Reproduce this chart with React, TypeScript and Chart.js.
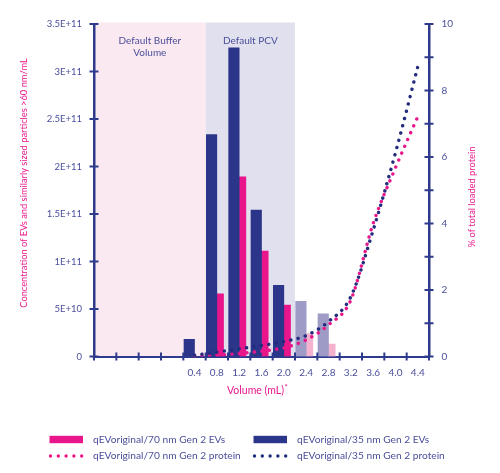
import React, { useEffect, useRef } from "react";
import { Chart, registerables } from "chart.js";

Chart.register(...registerables);

// ---------- data ----------
const categories = ["", "", "", "", "0.4", "0.8", "1.2", "1.6", "2.0", "2.4", "2.8", "3.2", "3.6", "4.0", "4.4"];
const evs35 = [null, null, null, null, 1.8e10, 2.335e11, 3.25e11, 1.54e11, 7.5e10, 5.8e10, 4.5e10, null, null, null, null];
const evs70 = [null, null, null, null, null, 6.6e10, 1.89e11, 1.11e11, 5.4e10, 2.4e10, 1.3e10, null, null, null, null];
const protein70 = [null, null, null, null, 0.02, 0.04, 0.09, 0.16, 0.26, 0.5, 0.95, 1.7, 4.0, 5.68, 7.22];
const protein35 = [null, null, null, null, 0.04, 0.13, 0.23, 0.33, 0.45, 0.63, 1.05, 1.8, 3.8, 6.13, 8.72];
const fadedIndex = [9, 10];
const leftTickLabels = ["0", "5E+10", "1E+11", "1.5E+11", "2E+11", "2.5E+11", "3E+11", "3.5E+11"];
const rightTickLabels = ["0", "", "2", "", "4", "", "6", "", "8", "", "10"];
const regionLabels = [
  { lines: ["Default Buffer", "Volume"], from: 0, to: 4 },
  { lines: ["Default PCV"], from: 5, to: 8 },
];
const legendLabels = [
  "qEVoriginal/70 nm Gen 2 EVs",
  "qEVoriginal/35 nm Gen 2 EVs",
  "qEVoriginal/70 nm Gen 2 protein",
  "qEVoriginal/35 nm Gen 2 protein",
];
const leftTitle = "Concentration of EVs and similarly sized particles >60 nm/mL";
const rightTitle = "% of total loaded protein";
const xTitle = "Volume (mL)";

// ---------- style ----------
const PINK = "#e8158b";
const NAVY = "#2b3589";
const PINK_LIGHT = "#f5b2cf";
const NAVY_LIGHT = "#9e9bc7";
const PINK_DOT = "#e8178c";
const NAVY_DOT = "#222b7c";
const AXIS = "#2e3a8c";
const TEXT = "#4b4f9b";
const BG_PINK = "#fbe9f1";
const BG_LAV = "#e0e0ee";
const FONT = "Lato, 'Noto Sans', sans-serif";

const W = 500;
const H = 473;

const decorPlugin = {
  id: "decor",
  beforeDraw(chart: any) {
    const { ctx, chartArea } = chart;
    const n = categories.length;
    const cw = (chartArea.right - chartArea.left) / n;
    const bx = (i: number) => chartArea.left + i * cw;
    const top = chartArea.top - 1.5;
    ctx.save();
    const fills = [BG_PINK, BG_LAV];
    regionLabels.forEach((r, k) => {
      ctx.fillStyle = fills[k];
      ctx.fillRect(bx(r.from), top, bx(r.to + 1) - bx(r.from), chartArea.bottom - top);
    });
    ctx.fillStyle = TEXT;
    ctx.font = `10px ${FONT}`;
    ctx.textAlign = "center";
    ctx.textBaseline = "middle";
    regionLabels.forEach((r) => {
      const cx = (bx(r.from) + bx(r.to + 1)) / 2;
      r.lines.forEach((l, j) => ctx.fillText(l, cx, chartArea.top + 17 + j * 12));
    });
    ctx.restore();
  },
  afterDraw(chart: any) {
    const { ctx, chartArea } = chart;
    const n = categories.length;
    const cw = (chartArea.right - chartArea.left) / n;
    ctx.save();
    ctx.strokeStyle = AXIS;
    ctx.lineWidth = 2;
    const yl = chart.scales.y;
    yl.ticks.forEach((t: any) => {
      const y = yl.getPixelForValue(t.value);
      ctx.beginPath();
      ctx.moveTo(chartArea.left - 4.5, y);
      ctx.lineTo(chartArea.left + 4.5, y);
      ctx.stroke();
    });
    const yr = chart.scales.y1;
    yr.ticks.forEach((t: any) => {
      const y = yr.getPixelForValue(t.value);
      ctx.beginPath();
      ctx.moveTo(chartArea.right - 4.5, y);
      ctx.lineTo(chartArea.right + 4.5, y);
      ctx.stroke();
    });
    for (let i = 0; i <= n; i++) {
      const x = chartArea.left + i * cw;
      ctx.beginPath();
      ctx.moveTo(x, chartArea.bottom - 4);
      ctx.lineTo(x, chartArea.bottom + 4);
      ctx.stroke();
    }
    // axis titles
    ctx.fillStyle = PINK_DOT;
    ctx.font = `9.3px ${FONT}`;
    ctx.textAlign = "center";
    ctx.textBaseline = "middle";
    ctx.save();
    ctx.translate(23.5, 183);
    ctx.rotate(-Math.PI / 2);
    ctx.fillText(leftTitle, 0, 0);
    ctx.restore();
    ctx.save();
    ctx.translate(472, 197);
    ctx.rotate(-Math.PI / 2);
    ctx.fillText(rightTitle, 0, 0);
    ctx.restore();
    ctx.font = `10.5px ${FONT}`;
    const tw = ctx.measureText(xTitle).width;
    ctx.textAlign = "left";
    const xStart = 257 - (tw + 3) / 2;
    ctx.fillText(xTitle, xStart, 391);
    ctx.font = `7.5px ${FONT}`;
    ctx.fillText("*", xStart + tw + 0.5, 388);
    // legend
    const ds = chart.data.datasets;
    const items = [ds[1], ds[0], ds[3], ds[2]];
    const colX = [49.5, 253.5];
    const rowY = [439.5, 456];
    ctx.font = `10.2px ${FONT}`;
    ctx.textAlign = "left";
    ctx.textBaseline = "middle";
    items.forEach((d: any, k: number) => {
      const x = colX[k % 2];
      const y = rowY[Math.floor(k / 2)];
      if (d.type === "line") {
        ctx.fillStyle = d.borderColor;
        for (let j = 0; j < 5; j++) {
          ctx.beginPath();
          ctx.arc(x + 1 + j * 7.8, y, 1.7, 0, Math.PI * 2);
          ctx.fill();
        }
      } else {
        ctx.fillStyle = d.legendColor;
        ctx.fillRect(x, y - 3.7, 33.5, 7.4);
      }
      ctx.fillStyle = TEXT;
      ctx.fillText(d.label, x + 43.5, y);
    });
    ctx.restore();
  },
};

export default function App() {
  const ref = useRef<HTMLCanvasElement | null>(null);
  useEffect(() => {
    if (!ref.current) return;
    const navyColors = categories.map((_, i) => (fadedIndex.includes(i) ? NAVY_LIGHT : NAVY));
    const pinkColors = categories.map((_, i) => (fadedIndex.includes(i) ? PINK_LIGHT : PINK));
    const chart = new Chart(ref.current, {
      type: "bar",
      data: {
        labels: categories,
        datasets: [
          {
            type: "bar",
            label: legendLabels[1],
            data: evs35,
            backgroundColor: navyColors,
            legendColor: NAVY,
            barThickness: 10.5,
            yAxisID: "y",
            order: 1,
          } as any,
          {
            type: "bar",
            label: legendLabels[0],
            data: evs70,
            backgroundColor: pinkColors,
            legendColor: PINK,
            barThickness: 6.7,
            yAxisID: "y",
            order: 1,
          } as any,
          {
            type: "line",
            label: legendLabels[3],
            data: protein35,
            borderColor: NAVY_DOT,
            borderWidth: 3.4,
            borderDash: [0.1, 7.4],
            borderCapStyle: "round",
            pointRadius: 0,
            cubicInterpolationMode: "monotone",
            fill: false,
            yAxisID: "y1",
            order: 0,
          } as any,
          {
            type: "line",
            label: legendLabels[2],
            data: protein70,
            borderColor: PINK_DOT,
            borderWidth: 3.4,
            borderDash: [0.1, 7.4],
            borderCapStyle: "round",
            pointRadius: 0,
            cubicInterpolationMode: "monotone",
            fill: false,
            yAxisID: "y1",
            order: 0,
          } as any,
        ],
      },
      options: {
        responsive: false,
        animation: false,
        layout: { padding: { top: 24, left: 0, right: 0, bottom: 0 } },
        plugins: { legend: { display: false }, tooltip: { enabled: false } },
        scales: {
          x: {
            type: "category",
            offset: true,
            grid: { display: false, drawTicks: false, tickLength: 0 },
            border: { display: true, color: AXIS, width: 2 },
            ticks: {
              color: TEXT,
              font: { family: FONT, size: 10 },
              padding: 10,
              autoSkip: false,
              maxRotation: 0,
            },
            afterFit: (s: any) => {
              s.height = H - 356.5;
            },
          },
          y: {
            position: "left",
            min: 0,
            max: 3.5e11,
            grid: { display: false, drawTicks: false, tickLength: 0 },
            border: { display: true, color: AXIS, width: 2.5 },
            ticks: {
              stepSize: 5e10,
              color: TEXT,
              font: { family: FONT, size: 9.5 },
              padding: 12,
              callback: (v: any) => leftTickLabels[Math.round(Number(v) / 5e10)] ?? "",
            },
            afterFit: (s: any) => {
              s.width = 94;
            },
          },
          y1: {
            position: "right",
            min: 0,
            max: 10,
            grid: { display: false, drawTicks: false, tickLength: 0 },
            border: { display: true, color: AXIS, width: 2.5 },
            ticks: {
              stepSize: 1,
              color: TEXT,
              font: { family: FONT, size: 10 },
              padding: 12.5,
              callback: (v: any) => rightTickLabels[Math.round(Number(v))] ?? "",
            },
            afterFit: (s: any) => {
              s.width = W - 429;
            },
          },
        },
      } as any,
      plugins: [decorPlugin],
    });
    return () => chart.destroy();
  }, []);
  return (
    <div style={{ position: "fixed", left: 0, top: 0, width: W, height: H, background: "#fff" }}>
      <canvas ref={ref} width={W} height={H} style={{ display: "block", width: W, height: H }} />
    </div>
  );
}
